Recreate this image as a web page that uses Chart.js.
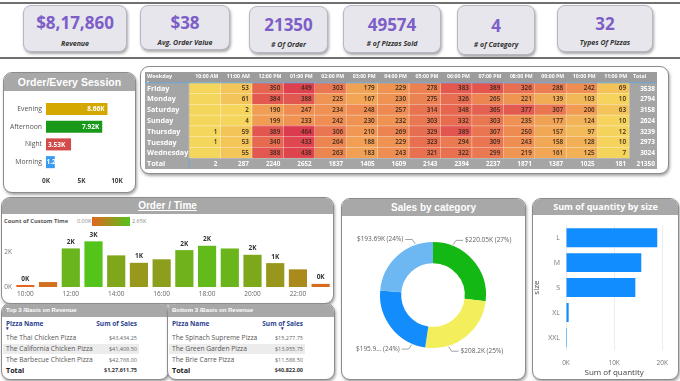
<!DOCTYPE html>
<html><head><meta charset="utf-8">
<script src="https://cdn.jsdelivr.net/npm/chart.js@4.4.1/dist/chart.umd.min.js"></script>
<style>
body{margin:0;width:680px;height:381px;overflow:hidden;background:#fff;font-family:"Open Sans",sans-serif;position:relative}
.line{position:absolute;left:0;width:680px;height:2px;background:#707070}
.kpi{position:absolute;background:#e6e6ec;border:1px solid #b7b7c6;border-radius:8px;box-shadow:1px 2px 3px rgba(0,0,0,.35)}
.kpi .v{position:absolute;left:0;right:0;text-align:center;font:bold 17px "Open Sans";color:#7d5ec8;line-height:20px}
.kpi .l{position:absolute;left:0;right:0;text-align:center;font:italic bold 7px "Open Sans";color:#333;line-height:9px}
.panel{position:absolute;background:#fff;border:1px solid #8c8c8c;border-radius:9px;box-shadow:1px 2px 3px rgba(0,0,0,.35);overflow:hidden}
.hdr{position:absolute;left:0;right:0;top:0;background:#a8a8a8;color:#fff;font-weight:bold;text-align:center;font-family:"Liberation Sans",Arial,sans-serif}
canvas{position:absolute}
.t{position:absolute;white-space:nowrap}
</style></head>
<body>
<div class="line" style="top:2px"></div>
<div class="line" style="top:57px"></div>
<div id="root"></div>
<script>
// ---------- DATA ----------
const kpiValues = ['$8,17,860', '$38', '21350', '49574', '4', '32'];
const kpiLabels = ['Revenue', 'Avg. Order Value', '# Of Order', '# of Pizzas Sold', '# of Category', 'Types Of Pizzas'];

const sessions = ['Evening', 'Afternoon', 'Night', 'Morning'];
const sessionOrders = [8660, 7920, 3530, 1240];

const weekdays = ['Friday', 'Monday', 'Saturday', 'Sunday', 'Thursday', 'Tuesday', 'Wednesday'];
const hourLabels = ['10:00 AM', '11:00 AM', '12:00 PM', '01:00 PM', '02:00 PM', '03:00 PM', '04:00 PM',
  '05:00 PM', '06:00 PM', '07:00 PM', '08:00 PM', '09:00 PM', '10:00 PM', '11:00 PM'];
const friday    = [null, 53, 350, 449, 303, 179, 229, 278, 383, 389, 326, 288, 242, 69];
const monday    = [null, 61, 384, 388, 225, 167, 230, 275, 326, 265, 221, 139, 103, 10];
const saturday  = [null, 2, 190, 247, 234, 248, 257, 314, 348, 365, 377, 307, 206, 63];
const sunday    = [null, 4, 199, 233, 242, 230, 232, 303, 332, 303, 235, 177, 124, 10];
const thursday  = [1, 59, 389, 464, 306, 210, 269, 329, 389, 307, 250, 157, 97, 12];
const tuesday   = [1, 53, 340, 433, 264, 188, 229, 323, 294, 309, 243, 158, 128, 10];
const wednesday = [null, 55, 388, 438, 263, 183, 243, 321, 322, 299, 219, 161, 125, 7];
const dayTotals = [3538, 2794, 3158, 2624, 3239, 2973, 3024];
const hourTotals = [2, 287, 2240, 2652, 1837, 1405, 1609, 2143, 2394, 2237, 1871, 1387, 1025, 181];
const grandTotal = 21350;

const orderHours = ['10:00', '11:00', '12:00', '13:00', '14:00', '15:00', '16:00', '17:00', '18:00', '19:00', '20:00', '21:00', '22:00', '23:00'];
const ordersByHour = [2, 287, 2240, 2652, 1837, 1405, 1609, 2143, 2394, 2237, 1871, 1387, 1025, 181];
const labeledHours = [0, 2, 3, 5, 7, 8, 10, 11, 13];

const categories = ['Classic', 'Supreme', 'Chicken', 'Veggie'];
const categorySales = [220053, 208197, 195920, 193690];
const categoryLabels = ['$220.05K (27%)', '$208.2K (25%)', '$195.9... (24%)', '$193.69K (24%)'];

const sizes = ['L', 'M', 'S', 'XL', 'XXL'];
const sizeQuantity = [18956, 15635, 14403, 552, 28];

const top3Names = ['The Thai Chicken Pizza', 'The California Chicken Pizza', 'The Barbecue Chicken Pizza'];
const top3Sales = ['$43,434.25', '$41,409.50', '$42,768.00'];
const top3Total = '$1,27,611.75';
const bottom3Names = ['The Spinach Supreme Pizza', 'The Green Garden Pizza', 'The Brie Carre Pizza'];
const bottom3Sales = ['$15,277.75', '$13,955.75', '$11,588.50'];
const bottom3Total = '$40,822.00';

// ---------- LAYOUT ----------
const SEG = '"Open Sans", "Noto Sans", sans-serif';
Chart.defaults.font.family = SEG;
const root = document.getElementById('root');
function el(tag, cls, style, html) {
  const e = document.createElement(tag);
  if (cls) e.className = cls;
  if (style) e.setAttribute('style', style);
  if (html !== undefined) e.innerHTML = html;
  root.appendChild(e);
  return e;
}
function canvas(id, x, y, w, h) {
  const c = document.createElement('canvas');
  c.id = id; c.width = w; c.height = h;
  c.style.left = x + 'px'; c.style.top = y + 'px'; c.style.width = w + 'px'; c.style.height = h + 'px';
  root.appendChild(c);
  return c;
}

// KPI cards
const kpiBoxes = [
  {x: 23, y: 5, w: 102, h: 45, vy: 21.5, ly: 42.5},
  {x: 140, y: 5, w: 88, h: 43, vy: 21.5, ly: 41.7},
  {x: 249, y: 6, w: 77, h: 45, vy: 24, ly: 43.3},
  {x: 343, y: 5, w: 96, h: 46, vy: 24, ly: 42.7},
  {x: 457, y: 5, w: 76, h: 48, vy: 25, ly: 43.3},
  {x: 557, y: 5, w: 94, h: 45, vy: 23.3, ly: 41.7}
];
kpiBoxes.forEach((b, i) => {
  const card = el('div', 'kpi', `left:${b.x}px;top:${b.y}px;width:${b.w}px;height:${b.h}px`);
  const v = document.createElement('div'); v.className = 'v'; v.textContent = kpiValues[i];
  v.style.top = (b.vy - b.y - 10) + 'px'; card.appendChild(v);
  const l = document.createElement('div'); l.className = 'l'; l.textContent = kpiLabels[i];
  l.style.top = (b.ly - b.y - 4.5) + 'px'; card.appendChild(l);
});

// Panels
function panel(x, y, w, h, title, hh, fs, extra) {
  const p = el('div', 'panel', `left:${x}px;top:${y}px;width:${w}px;height:${h}px`);
  if (title) {
    const d = document.createElement('div'); d.className = 'hdr';
    d.setAttribute('style', `height:${hh}px;line-height:${hh}px;font-size:${fs}px;${extra || ''}`);
    d.innerHTML = title; p.appendChild(d);
  }
  return p;
}
panel(3, 72, 131, 119, 'Order/Every Session', 18, 10.5);
panel(140, 66, 527, 106, null);
panel(1, 197, 331, 105, '<span style="text-decoration:underline">Order / Time</span>', 16, 10);
panel(341, 198, 183, 180, 'Sales by category', 17, 10);
panel(532, 198, 145, 180, 'Sum of quantity by size', 16, 9, 'font-family:' + SEG.replace(/"/g, "'"));
panel(1, 303, 166, 75, 'Top 3 /Basis on Revenue', 13, 6, 'text-align:left;padding-left:4px');
panel(167, 303, 166, 75, 'Bottom 3 /Basis on Revenue', 13, 6, 'text-align:left;padding-left:4px');

// Order/Time legend
el('div', 't', `left:4px;top:217px;font:bold 5.8px ${SEG};color:#555;line-height:9px`, 'Count of Custom Time');
el('div', 't', `left:77px;top:217px;font:5.5px ${SEG};color:#888;line-height:9px`, '0.00K');
el('div', 't', 'left:92px;top:217px;width:38px;height:9px;background:linear-gradient(to right,#e2661e,#54c41a)');
el('div', 't', `left:132px;top:217px;font:5.5px ${SEG};color:#888;line-height:9px`, '2.65K');

// Tables
function table(x, names, sales, total, sortOnSales) {
  const right = x + 136, tf = `font:6.7px ${SEG};color:#555;line-height:10px`;
  el('div', 't', `left:${x + 5}px;top:319px;font:bold 6.5px ${SEG};color:#2c3f8e;line-height:9px`, 'Pizza Name');
  el('div', 't', `left:${right - 60}px;width:60px;text-align:right;top:319px;font:bold 6.5px ${SEG};color:#2c3f8e;line-height:9px`, 'Sum of Sales');
  const ax = sortOnSales ? right - 22 : x + 5;
  el('div', 't', `left:${ax}px;top:326px;font:bold 5px ${SEG};color:#2c3f8e;line-height:5px`, '&#9662;');
  el('div', 't', `left:${x + 2}px;top:344px;width:${right - x}px;height:10px;background:#ececec`);
  names.forEach((n, i) => {
    const cy = 338.3 + i * 10.7;
    el('div', 't', `left:${x + 5}px;top:${cy - 5}px;${tf}`, n);
    el('div', 't', `left:${right - 60}px;width:60px;text-align:right;top:${cy - 5}px;font:5.5px ${SEG};color:#666;line-height:10px`, sales[i]);
  });
  el('div', 't', `left:${x + 5}px;top:365px;font:bold 7.2px ${SEG};color:#222;line-height:10px`, 'Total');
  el('div', 't', `left:${right - 70}px;width:70px;text-align:right;top:365px;font:bold 5.5px ${SEG};color:#333;line-height:10px`, total);
}
table(1, top3Names, top3Sales, top3Total, false);
table(167, bottom3Names, bottom3Sales, bottom3Total, true);

// ---------- CHARTS ----------
const noPlug = {legend: {display: false}, tooltip: {enabled: false}};
const noGrid = {display: false, drawTicks: false};

// Session chart
const sessionColors = ['#d5a800', '#18991a', '#d24a4a', '#3a9bf2'];
const sessionLabelPlugin = {
  id: 'sessLbl',
  afterDatasetsDraw(chart) {
    const ctx = chart.ctx, meta = chart.getDatasetMeta(0);
    ctx.save();
    ctx.font = `bold 6.5px ${SEG}`; ctx.fillStyle = '#fff'; ctx.textBaseline = 'middle';
    meta.data.forEach((b, i) => {
      const v = sessionOrders[i], txt = (v / 1000).toFixed(2) + 'K';
      const w = b.x - b.base;
      ctx.save();
      ctx.beginPath(); ctx.rect(b.base, b.y - 7, w + 1, 14); ctx.clip();
      if (w > 30) { ctx.textAlign = 'right'; ctx.fillText(txt, b.x - 3, b.y + 0.5); }
      else if (w > 20) { ctx.textAlign = 'left'; ctx.fillText(txt, b.base + 2, b.y + 0.5); }
      else { ctx.textAlign = 'left'; ctx.fillText(txt, b.base + 0.5, b.y + 0.5); }
      ctx.restore();
    });
    ctx.restore();
  }
};
new Chart(canvas('cSession', 3, 92, 131, 98), {
  type: 'bar',
  data: {labels: sessions, datasets: [{data: sessionOrders, backgroundColor: sessionColors, barPercentage: 0.68, categoryPercentage: 1}]},
  options: {
    responsive: false, animation: false, indexAxis: 'y',
    layout: {padding: {top: 8, right: 17, bottom: 0, left: 0}},
    plugins: noPlug,
    scales: {
      x: {min: 0, max: 10000, ticks: {stepSize: 5000, callback: v => v / 1000 + 'K', font: {size: 6.5, weight: 'bold'}, color: '#444', padding: 6},
          grid: noGrid, border: {display: false}, afterFit: s => { s.height = 19; }},
      y: {ticks: {font: {size: 6.8}, color: '#555', padding: 4}, grid: noGrid, border: {display: false}, afterFit: s => { s.width = 43; }}
    }
  },
  plugins: [sessionLabelPlugin]
});

// Heatmap
function mix(a, b, t) { return a.map((x, i) => Math.round(x + (b[i] - x) * t)); }
function heatColor(v) {
  const lo = [245, 214, 92], mid = [239, 146, 82], hi = [220, 58, 78];
  if (v === null) return `rgb(${lo})`;
  const c = v <= 232 ? mix(lo, mid, v / 232) : mix(mid, hi, Math.min(1, (v - 232) / 232));
  return `rgb(${c})`;
}
const dayRows = [friday, monday, saturday, sunday, thursday, tuesday, wednesday];
const rowKeys = ['header'].concat(weekdays, ['Total']);
const GRAY = '#a5a5a5', HGRAY = '#9c9c9c';
const heatSets = [];
heatSets.push({
  kind: 'label', data: rowKeys.map(() => [-1.4, 0]),
  backgroundColor: rowKeys.map((k, i) => i === 0 ? HGRAY : GRAY),
  texts: ['Weekday'].concat(weekdays, ['Total'])
});
hourLabels.forEach((h, c) => {
  heatSets.push({
    kind: 'hour', data: rowKeys.map(() => [c, c + 1]),
    backgroundColor: rowKeys.map((k, i) => i === 0 ? HGRAY : (i === 8 ? GRAY : heatColor(dayRows[i - 1][c]))),
    texts: [h].concat(dayRows.map(r => r[c] === null ? '' : String(r[c])), [String(hourTotals[c])])
  });
});
heatSets.push({
  kind: 'total', data: rowKeys.map(() => [14, 14.89]),
  backgroundColor: rowKeys.map((k, i) => i === 0 ? HGRAY : GRAY),
  texts: ['Total'].concat(dayTotals.map(String), [String(grandTotal)])
});
heatSets.forEach(d => { d.grouped = false; d.barPercentage = 1; d.categoryPercentage = 1; d.borderWidth = 0; });

const heatTextPlugin = {
  id: 'heatText',
  afterDatasetsDraw(chart) {
    const ctx = chart.ctx;
    ctx.save();
    ctx.textBaseline = 'middle';
    chart.data.datasets.forEach((ds, d) => {
      const meta = chart.getDatasetMeta(d);
      meta.data.forEach((b, i) => {
        const l = Math.min(b.x, b.base), r = Math.max(b.x, b.base), y = b.y;
        if (i > 0 && i < 8 && ds.kind === 'hour') {
          ctx.strokeStyle = 'rgba(255,255,255,0.35)'; ctx.lineWidth = 0.6;
          ctx.strokeRect(l, y - b.height / 2, r - l, b.height);
        }
      });
    });
    chart.data.datasets.forEach((ds, d) => {
      const meta = chart.getDatasetMeta(d);
      meta.data.forEach((b, i) => {
        const t = ds.texts[i]; if (!t) return;
        const l = Math.min(b.x, b.base), r = Math.max(b.x, b.base), y = b.y + 0.5;
        const last = ds.texts.length - 1;
        if (ds.kind === 'label') {
          ctx.fillStyle = '#fff'; ctx.textAlign = 'left';
          ctx.font = i === 0 ? `bold 5.5px ${SEG}` : `bold 7.2px ${SEG}`;
          ctx.fillText(t, l + 2, i === 0 ? y - 1.5 : y);
          if (i === 0) { ctx.font = `bold 4px ${SEG}`; ctx.fillText('\u25B4', l + 2, y + 3.5); }
        } else if (ds.kind === 'hour') {
          ctx.textAlign = 'right';
          if (i === 0) { ctx.fillStyle = '#fff'; ctx.font = `bold 5.2px ${SEG}`; ctx.fillText(t, r - 2, y - 1); }
          else if (i === last) { ctx.fillStyle = '#fff'; ctx.font = `bold 6.3px ${SEG}`; ctx.fillText(t, r - 3, y); }
          else { ctx.fillStyle = '#3b2a1e'; ctx.font = `600 6.3px ${SEG}`; ctx.fillText(t, r - 3, y); }
        } else {
          ctx.fillStyle = '#fff';
          if (i === 0) { ctx.textAlign = 'left'; ctx.font = `bold 5.2px ${SEG}`; ctx.fillText(t, l + 4, y - 1); }
          else { ctx.textAlign = 'right'; ctx.font = `bold 6.5px ${SEG}`; ctx.fillText(t, r - 2, y); }
        }
      });
    });
    const m0 = chart.getDatasetMeta(0).data[0];
    const mT = chart.getDatasetMeta(0).data[8];
    const yb = m0.y + m0.height / 2;
    ctx.strokeStyle = '#6aa6dc'; ctx.lineWidth = 1;
    ctx.beginPath(); ctx.moveTo(chart.chartArea.left, yb); ctx.lineTo(chart.chartArea.right, yb); ctx.stroke();
    const xr = Math.max(mT.x, mT.base);
    ctx.beginPath(); ctx.moveTo(xr, mT.y - mT.height / 2); ctx.lineTo(xr, mT.y + mT.height / 2); ctx.stroke();
    ctx.restore();
  }
};
new Chart(canvas('cHeat', 145, 72, 512, 97), {
  type: 'bar',
  data: {labels: rowKeys, datasets: heatSets},
  options: {
    responsive: false, animation: false, indexAxis: 'y',
    layout: {padding: 0},
    plugins: noPlug,
    scales: {
      x: {type: 'linear', min: -1.4, max: 14.89, display: false},
      y: {type: 'category', display: false}
    }
  },
  plugins: [heatTextPlugin]
});

// Order / Time
function orderColor(v) {
  const c = mix([226, 102, 30], [84, 196, 26], v / 2652);
  return `rgb(${c})`;
}
const orderLabelPlugin = {
  id: 'ordLbl',
  afterDatasetsDraw(chart) {
    const ctx = chart.ctx, meta = chart.getDatasetMeta(0);
    ctx.save();
    ctx.font = `bold 6.5px ${SEG}`; ctx.fillStyle = '#333'; ctx.textAlign = 'center'; ctx.textBaseline = 'bottom';
    labeledHours.forEach(i => {
      const b = meta.data[i];
      ctx.fillText(Math.round(ordersByHour[i] / 1000) + 'K', b.x, Math.min(b.y, b.base - 2) - 3);
    });
    ctx.restore();
  }
};
new Chart(canvas('cOrder', 1, 226, 332, 74), {
  type: 'bar',
  data: {labels: orderHours, datasets: [{data: ordersByHour, backgroundColor: ordersByHour.map(orderColor),
    barPercentage: 0.8, categoryPercentage: 1, minBarLength: 2}]},
  options: {
    responsive: false, animation: false,
    layout: {padding: {top: 5, right: 1, left: 0, bottom: 0}},
    plugins: noPlug,
    scales: {
      x: {ticks: {autoSkip: false, maxRotation: 0, callback: (v, i) => i % 2 === 0 ? orderHours[i] : '', font: {size: 6.5}, color: '#666', padding: 3},
          grid: noGrid, border: {display: false}, afterFit: s => { s.height = 13; }},
      y: {min: 0, max: 3200, afterBuildTicks: s => { s.ticks = [{value: 0}, {value: 2000}]; },
          ticks: {callback: v => v / 1000 + 'K', font: {size: 6.5}, color: '#777', padding: 2},
          grid: noGrid, border: {display: false}, afterFit: s => { s.width = 13; }}
    }
  },
  plugins: [orderLabelPlugin]
});

// Doughnut
const donutColors = ['#14b814', '#f3ef5c', '#128dfb', '#6db7f3'];
const donutLabelPlugin = {
  id: 'donutLbl',
  afterDatasetsDraw(chart) {
    const ctx = chart.ctx, meta = chart.getDatasetMeta(0);
    ctx.save();
    ctx.font = `6.5px ${SEG}`; ctx.fillStyle = '#605e5c'; ctx.strokeStyle = '#8a8a8a'; ctx.lineWidth = 0.8;
    ctx.textBaseline = 'middle';
    meta.data.forEach((arc, i) => {
      const p = arc.getProps(['x', 'y', 'startAngle', 'endAngle', 'outerRadius']);
      let a = (p.startAngle + p.endAngle) / 2 + Math.PI / 2;
      a = ((a % (2 * Math.PI)) + 2 * Math.PI) % (2 * Math.PI);
      const top = Math.cos(a) > 0, right = Math.sin(a) > 0;
      const target = top ? (right ? 0 : 2 * Math.PI) : Math.PI;
      const s = a + (target - a) * 0.55;
      const sx = p.x + (p.outerRadius + 1) * Math.sin(s), sy = p.y - (p.outerRadius + 1) * Math.cos(s);
      const side = right ? 1 : -1, vert = top ? -1 : 1;
      const ex = sx + side * 3, ey = sy + vert * 4.5, fx = ex + side * 7;
      ctx.beginPath(); ctx.moveTo(sx, sy); ctx.lineTo(ex, ey); ctx.lineTo(fx, ey); ctx.stroke();
      ctx.textAlign = right ? 'left' : 'right';
      ctx.fillText(categoryLabels[i], fx + side * 2, ey);
    });
    ctx.restore();
  }
};
new Chart(canvas('cDonut', 341, 216, 183, 160), {
  type: 'doughnut',
  data: {labels: categories, datasets: [{data: categorySales, backgroundColor: donutColors, borderWidth: 0}]},
  options: {
    responsive: false, animation: false, cutout: '60%',
    layout: {padding: {left: 39, right: 38, top: 26, bottom: 28}},
    plugins: noPlug
  },
  plugins: [donutLabelPlugin]
});

// Size chart
new Chart(canvas('cSize', 532, 215, 145, 163), {
  type: 'bar',
  data: {labels: sizes, datasets: [{data: sizeQuantity, backgroundColor: '#118dff', barPercentage: 0.76, categoryPercentage: 1, minBarLength: 1}]},
  options: {
    responsive: false, animation: false, indexAxis: 'y',
    layout: {padding: {top: 10, right: 8, bottom: 0, left: 0}},
    plugins: noPlug,
    scales: {
      x: {min: 0, max: 20000, ticks: {stepSize: 10000, callback: v => v / 1000 + 'K', font: {size: 6.5}, color: '#777', padding: 9},
          grid: {color: '#ececec', drawTicks: false}, border: {display: false},
          title: {display: true, text: 'Sum of quantity', font: {size: 8}, color: '#444', padding: {top: 0, bottom: 0}},
          afterFit: s => { s.height = 28; }},
      y: {ticks: {font: {size: 7}, color: '#777', padding: 6}, grid: noGrid, border: {display: false},
          title: {display: true, text: 'size', font: {size: 8}, color: '#444', padding: {top: 0, bottom: 0}},
          afterFit: s => { s.width = 34; }}
    }
  }
});
</script>
</body></html>
